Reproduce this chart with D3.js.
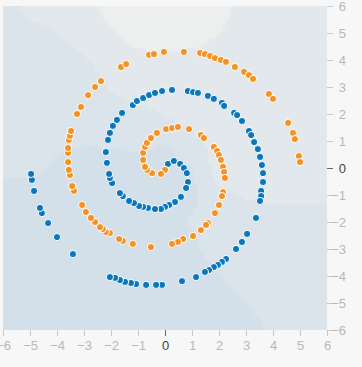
<!DOCTYPE html>
<html>
<head>
<meta charset="utf-8">
<script src="https://cdn.jsdelivr.net/npm/d3@7"></script>
<style>
  body { margin: 0; background: #f7f7f7; }
  svg { display: block; font-family: "Liberation Sans", Arial, sans-serif; }
  .axis text { font-size: 13px; fill: #b8b8b8; }
  .axis line { stroke: #c8c8c8; }
  .axis .zero text { fill: #444; }
  .axis .zero line { stroke: #666; }
</style>
</head>
<body>
<div id="chart"></div>
<script>
// Spiral dataset, two classes (x, y in data units)
let blueX = [0.11, 0.33, 0.56, 0.70, 0.81, 0.85, 0.78, 0.59, 0.37, 0.15, 0.00, -0.15, -0.37, -0.63, -0.81, -0.96, -1.15, -1.33, -1.56, -1.67, -1.96, -2.04, -2.07, -2.15, -2.19, -2.11, -2.04, -1.93, -1.78, -1.59, -1.19, -1.04, -0.81, -0.59, -0.37, -0.11, 0.26, 0.85, 1.04, 1.22, 1.59, 1.81, 2.11, 2.19, 2.56, 2.67, 2.85, 3.11, 3.19, 3.30, 3.44, 3.52, 3.59, 3.63, 3.63, 3.56, 3.56, 3.52, 3.37, 3.04, 2.85, 2.63, 2.26, 2.11, 1.96, 1.81, 1.63, 1.48, 1.15, 0.63, -0.11, -0.33, -0.70, -1.07, -1.26, -1.48, -1.67, -1.85, -2.04, -3.41, -4.00, -4.33, -4.56, -4.63, -4.85, -4.93, -4.96];
let blueY = [0.15, 0.26, 0.15, 0.00, -0.19, -0.52, -0.74, -1.07, -1.26, -1.37, -1.44, -1.52, -1.52, -1.48, -1.44, -1.41, -1.30, -1.22, -1.04, -0.93, -0.56, -0.37, -0.22, 0.19, 0.59, 1.04, 1.30, 1.56, 1.78, 2.04, 2.33, 2.48, 2.59, 2.70, 2.78, 2.85, 2.89, 2.85, 2.81, 2.78, 2.67, 2.56, 2.41, 2.30, 2.04, 1.96, 1.74, 1.37, 1.22, 0.96, 0.70, 0.41, 0.11, -0.19, -0.52, -0.85, -1.04, -1.22, -1.85, -2.44, -2.74, -3.00, -3.37, -3.48, -3.59, -3.67, -3.78, -3.85, -4.04, -4.19, -4.33, -4.33, -4.33, -4.30, -4.26, -4.22, -4.15, -4.07, -4.04, -3.19, -2.56, -2.04, -1.67, -1.48, -0.85, -0.44, -0.22];
let orangeX = [0.00, -0.15, -0.48, -0.67, -0.74, -0.81, -0.81, -0.74, -0.67, -0.52, -0.30, 0.04, 0.26, 0.48, 0.89, 1.33, 1.44, 1.81, 1.93, 2.00, 2.07, 2.15, 2.19, 2.22, 2.15, 2.11, 2.00, 1.85, 1.59, 1.52, 1.33, 1.04, 0.67, 0.48, 0.26, -0.52, -1.19, -1.56, -1.70, -2.04, -2.19, -2.30, -2.41, -2.59, -2.74, -2.93, -3.07, -3.37, -3.44, -3.52, -3.56, -3.59, -3.59, -3.59, -3.56, -3.52, -3.48, -3.26, -3.11, -2.85, -2.59, -2.37, -1.63, -1.44, -0.59, -0.41, -0.04, 0.70, 1.30, 1.48, 1.67, 1.85, 2.07, 2.26, 2.59, 2.93, 3.11, 3.26, 3.85, 4.00, 4.56, 4.74, 4.81, 4.96, 5.00];
let orangeY = [-0.07, -0.22, -0.19, -0.07, 0.04, 0.30, 0.56, 0.78, 0.93, 1.11, 1.30, 1.44, 1.48, 1.52, 1.44, 1.22, 1.11, 0.78, 0.63, 0.48, 0.30, 0.04, -0.15, -0.37, -0.89, -1.04, -1.37, -1.67, -2.04, -2.11, -2.30, -2.52, -2.63, -2.74, -2.81, -2.93, -2.81, -2.70, -2.63, -2.41, -2.37, -2.26, -2.19, -2.00, -1.85, -1.63, -1.37, -0.85, -0.67, -0.26, -0.07, 0.22, 0.56, 0.74, 1.04, 1.19, 1.37, 2.00, 2.26, 2.70, 3.00, 3.22, 3.74, 3.85, 4.19, 4.22, 4.30, 4.30, 4.26, 4.22, 4.15, 4.07, 4.00, 3.93, 3.74, 3.56, 3.44, 3.30, 2.74, 2.56, 1.67, 1.30, 1.07, 0.44, 0.22];

// Background shade level sampled at integer points, rows y = 6 .. -6, cols x = -6 .. 6
let shadeGrid = [
  [2, 1, 1, 1, 0, 0, 0, 0, 0, 1, 1, 1, 1],
  [2, 2, 1.5, 1, 0.6, 0, 0, 0, 0.5, 1, 1, 1, 1],
  [2, 2, 2, 1.6, 1, 0.9, 0.8, 0.9, 1, 1, 1, 1, 1],
  [2, 2, 2, 2, 1.4, 1, 1, 1, 1, 1, 1, 1, 1],
  [2, 2, 2, 2, 2, 1.75, 1.45, 1, 1, 1, 1, 1, 1],
  [2, 2, 2.3, 2.45, 2.4, 2.3, 2.45, 1.8, 1, 1, 1, 1, 1],
  [2.2, 2.2, 2.7, 2.8, 2.8, 2.8, 3, 2.5, 1, 1, 1, 1, 1],
  [3, 3, 3, 3, 3, 3, 3, 2.8, 1.7, 1.4, 1.2, 1.2, 1.2],
  [3, 3, 3, 3, 3, 3, 3, 2.4, 2, 2, 2, 2, 2],
  [3, 3, 3, 3, 3, 3, 3, 2.7, 2, 2, 2, 2, 2],
  [3, 3, 3, 3, 3, 3, 3, 3, 2.55, 2, 2, 2, 2],
  [3, 3, 3, 3, 3, 3, 3, 3, 3, 2.47, 2, 2, 2],
  [3, 3, 3, 3, 3, 3, 3, 3, 3, 3, 2.35, 2, 2]
];
let shadeColors = ['#edefef', '#e3e8ec', '#dbe4eb', '#d3e0ea'];
let ticks = d3.range(-6, 7);

let width = 362, height = 367;
let plot = { left: 3, top: 6, size: 324 };

let x = d3.scaleLinear().domain([-6, 6]).range([plot.left, plot.left + plot.size]);
let y = d3.scaleLinear().domain([-6, 6]).range([plot.top + plot.size, plot.top]);

let svg = d3.select('#chart').append('svg')
  .attr('width', width)
  .attr('height', height);

// Heatmap: bilinear sample of the grid, quantized to shades
let res = 100;
let canvas = document.createElement('canvas');
canvas.width = res;
canvas.height = res;
let ctx = canvas.getContext('2d');
let img = ctx.createImageData(res, res);
let gx = d3.scaleLinear().domain([0, res - 1]).range([0, 12]);
for (let j = 0; j < res; j++) {
  for (let i = 0; i < res; i++) {
    let u = gx(i), v = gx(j);
    let c0 = Math.min(11, Math.floor(u)), r0 = Math.min(11, Math.floor(v));
    let fu = u - c0, fv = v - r0;
    let val = shadeGrid[r0][c0] * (1 - fu) * (1 - fv) + shadeGrid[r0][c0 + 1] * fu * (1 - fv)
      + shadeGrid[r0 + 1][c0] * (1 - fu) * fv + shadeGrid[r0 + 1][c0 + 1] * fu * fv;
    let col = d3.rgb(shadeColors[Math.max(0, Math.min(3, Math.round(val)))]);
    let k = (j * res + i) * 4;
    img.data[k] = col.r;
    img.data[k + 1] = col.g;
    img.data[k + 2] = col.b;
    img.data[k + 3] = 255;
  }
}
ctx.putImageData(img, 0, 0);

svg.append('image')
  .attr('x', plot.left)
  .attr('y', plot.top)
  .attr('width', plot.size)
  .attr('height', plot.size)
  .attr('preserveAspectRatio', 'none')
  .attr('href', canvas.toDataURL());

// Points
let points = blueX.map((d, i) => ({ x: d, y: blueY[i], label: 1 }))
  .concat(orangeX.map((d, i) => ({ x: d, y: orangeY[i], label: -1 })));

svg.append('g').selectAll('circle')
  .data(points)
  .enter()
  .append('circle')
    .attr('cx', d => x(d.x))
    .attr('cy', d => y(d.y))
    .attr('r', 3.6)
    .attr('fill', d => d.label > 0 ? '#0877bd' : '#f59322')
    .attr('stroke', '#fff')
    .attr('stroke-width', 1);

// Axes
let yAxis = svg.append('g')
  .attr('class', 'axis')
  .attr('transform', `translate(${plot.left + plot.size},0)`)
  .call(d3.axisRight(y).tickValues(ticks).tickSize(6).tickFormat(d3.format('d')));

let xAxis = svg.append('g')
  .attr('class', 'axis')
  .attr('transform', `translate(0,${plot.top + plot.size})`)
  .call(d3.axisBottom(x).tickValues(ticks).tickSize(6).tickPadding(5).tickFormat(d3.format('d')));

yAxis.selectAll('text').attr('text-anchor', 'end').attr('x', 19);
svg.selectAll('.axis .domain').remove();
svg.selectAll('.axis .tick').classed('zero', d => d === 0);
</script>
</body>
</html>
